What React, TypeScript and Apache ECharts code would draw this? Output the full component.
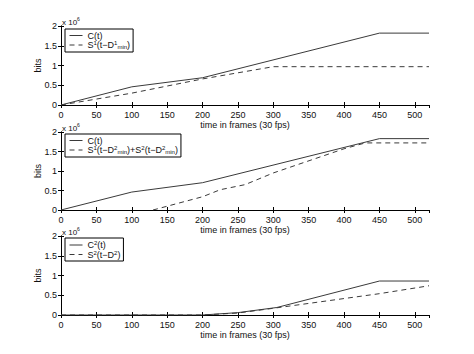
import React, { useEffect, useRef } from "react";
import * as echarts from "echarts";

// ---- data (bits in units of 1e6, x in frames) ----
const cX = [0, 100, 200, 450, 520];
const cY = [0, 0.46, 0.69, 1.82, 1.82];

const s1X = [0, 100, 200, 300, 520];
const s1Y = [0, 0.3, 0.66, 0.97, 0.97];

const c2X = [0, 100, 200, 450, 520];
const c2Y = [0, 0.46, 0.7, 1.83, 1.83];
const s12X = [130, 200, 225, 260, 300, 400, 430, 520];
const s12Y = [0, 0.34, 0.52, 0.65, 0.95, 1.57, 1.72, 1.72];

const c3X = [0, 200, 250, 305, 450, 520];
const c3Y = [0, 0, 0.06, 0.19, 0.86, 0.86];
const s3X = [0, 200, 250, 300, 450, 520];
const s3Y = [0, 0, 0.05, 0.17, 0.54, 0.74];

const xTicksMax = 520;
const yMax = 2;
const xLabel = "time in frames (30 fps)";
const yLabel = "bits";

const FONT = "Liberation Sans, Arial, Helvetica, sans-serif";
const LINE = "#3a3a3a";

const zip = (xs: number[], ys: number[]) => xs.map((x, i) => [x, ys[i]]);

const legendLabels: Record<string, string> = {
  c1: "{n|C(t)}",
  s1: "{n|S}{sup|1}{n|(t\u2212D}{sup|1}{sub|min}{n|)}",
  c2: "{n|C(t)}",
  s2: "{n|S}{sup|1}{n|(t\u2212D}{sup|2}{sub|min}{n|)+S}{sup|2}{n|(t\u2212D}{sup|2}{sub|min}{n|)}",
  c3: "{n|C}{sup|2}{n|(t)}",
  s3: "{n|S}{sup|2}{n|(t\u2212D}{sup|2}{n|)}",
};

const richStyles = {
  n: { fontSize: 9, fontFamily: FONT, color: "#111", lineHeight: 10, verticalAlign: "middle" },
  sup: { fontSize: 6, fontFamily: FONT, color: "#111", lineHeight: 6, verticalAlign: "top" },
  sub: { fontSize: 6, fontFamily: FONT, color: "#111", lineHeight: 6, verticalAlign: "bottom" },
};

export default function App() {
  const ref = useRef<HTMLDivElement>(null);
  useEffect(() => {
    document.body.style.margin = "0";
    if (!ref.current) return;
    const chart = echarts.init(ref.current, undefined, { renderer: "svg" });

    const grids = [
      { left: 61, right: 45, top: 26, height: 79 },
      { left: 61, right: 45, top: 132, height: 78 },
      { left: 61, right: 45, top: 236, height: 79 },
    ];

    const axisLine = { show: true, lineStyle: { color: "#000", width: 1 } };
    const tick = { show: true, inside: true, length: 3, lineStyle: { color: "#000" } };
    const lbl = { fontSize: 9, fontFamily: FONT, color: "#111" };

    const xAxes: any[] = [];
    const yAxes: any[] = [];
    grids.forEach((_, i) => {
      xAxes.push({
        gridIndex: i,
        type: "value",
        min: 0,
        max: xTicksMax,
        interval: 50,
        axisLine,
        axisTick: tick,
        splitLine: { show: false },
        axisLabel: { ...lbl, margin: 5, showMaxLabel: false },
        name: xLabel,
        nameLocation: "middle",
        nameGap: 15,
        nameTextStyle: { fontSize: 9, fontFamily: FONT, color: "#111" },
      });
      yAxes.push({
        gridIndex: i,
        type: "value",
        min: 0,
        max: yMax,
        interval: 0.5,
        axisLine,
        axisTick: tick,
        splitLine: { show: false },
        axisLabel: { ...lbl, margin: 4, formatter: (v: number) => String(v) },
      });
    });
    grids.forEach((_, i) => {
      xAxes.push({
        gridIndex: i,
        type: "value",
        position: "top",
        min: 0,
        max: xTicksMax,
        interval: 50,
        axisLine,
        axisTick: tick,
        splitLine: { show: false },
        axisLabel: { show: false },
      });
      yAxes.push({
        gridIndex: i,
        type: "value",
        position: "right",
        min: 0,
        max: yMax,
        interval: 0.5,
        axisLine,
        axisTick: tick,
        splitLine: { show: false },
        axisLabel: { show: false },
      });
    });

    const mk = (name: string, idx: number, xs: number[], ys: number[], dashed: boolean) => ({
      name,
      type: "line",
      xAxisIndex: idx,
      yAxisIndex: idx,
      data: zip(xs, ys),
      symbol: "none",
      lineStyle: { color: LINE, width: 1, type: dashed ? [5, 4] : "solid" },
      itemStyle: { color: LINE },
    });

    const series = [
      mk("c1", 0, cX, cY, false),
      mk("s1", 0, s1X, s1Y, true),
      mk("c2", 1, c2X, c2Y, false),
      mk("s2", 1, s12X, s12Y, true),
      mk("c3", 2, c3X, c3Y, false),
      mk("s3", 2, s3X, s3Y, true),
    ];

    const legendTops = [29, 134, 238];
    const legendData = [["c1", "s1"], ["c2", "s2"], ["c3", "s3"]];
    const legends = legendData.map((d, i) => ({
      data: d,
      left: 65,
      top: legendTops[i],
      orient: "vertical",
      padding: [2, 3, 2, 4],
      itemGap: 0,
      itemWidth: 13,
      itemHeight: 8,
      borderColor: "#000",
      borderWidth: 1,
      borderRadius: 0,
      backgroundColor: "#fff",
      selectedMode: false,
      itemStyle: { color: "rgba(0,0,0,0)", borderWidth: 0, opacity: 0 },
      lineStyle: { width: 1 },
      formatter: (name: string) => legendLabels[name],
      textStyle: { fontSize: 9, fontFamily: FONT, color: "#111", rich: richStyles },
    }));

    const graphic: any[] = [];
    grids.forEach((g) => {
      graphic.push({
        type: "text",
        left: 62,
        top: g.top - 10,
        style: {
          text: "{a|x 10}{b|6}",
          rich: {
            a: { fontSize: 8, fontFamily: FONT, fill: "#111", lineHeight: 10, verticalAlign: "bottom" },
            b: { fontSize: 5, fontFamily: FONT, fill: "#111", lineHeight: 5, verticalAlign: "top" },
          },
        },
      });
      graphic.push({
        type: "text",
        x: 38,
        y: g.top + g.height / 2,
        rotation: Math.PI / 2,
        style: {
          text: yLabel,
          fontSize: 9,
          fontFamily: FONT,
          fill: "#111",
          align: "center",
          verticalAlign: "middle",
        },
      });
    });

    chart.setOption({
      animation: false,
      backgroundColor: "#fff",
      grid: grids,
      xAxis: xAxes,
      yAxis: yAxes,
      series,
      legend: legends,
      graphic,
    });
    return () => chart.dispose();
  }, []);
  return <div ref={ref} style={{ width: 474, height: 354 }} />;
}
